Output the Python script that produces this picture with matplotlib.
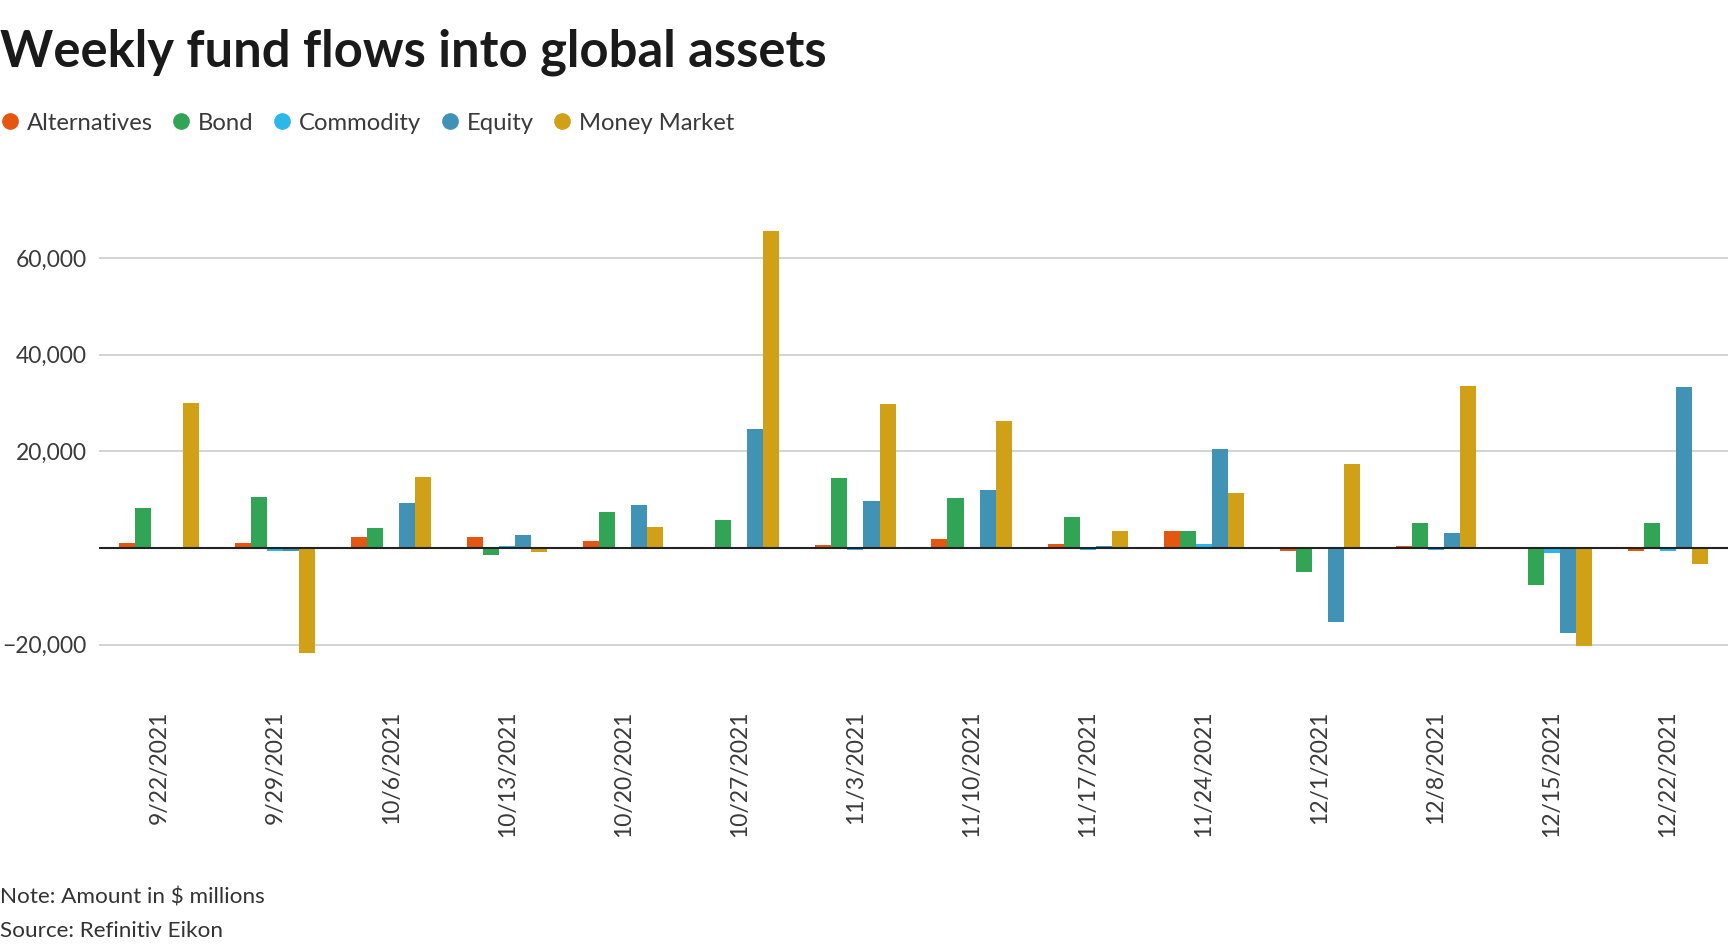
import matplotlib
matplotlib.use("Agg")
import matplotlib.pyplot as plt
from matplotlib.lines import Line2D
from matplotlib.ticker import FuncFormatter
import numpy as np

dates = ["9/22/2021", "9/29/2021", "10/6/2021", "10/13/2021", "10/20/2021",
         "10/27/2021", "11/3/2021", "11/10/2021", "11/17/2021", "11/24/2021",
         "12/1/2021", "12/8/2021", "12/15/2021", "12/22/2021"]

# $ millions
alternatives = [1000, 1000, 2200, 2200, 1400, 0, 550, 1800, 760, 3450, -650, 350, 0, -600]
bond = [8200, 10500, 4100, -1450, 7400, 5700, 14400, 10300, 6350, 3450, -5000, 5100, -7650, 5100]
commodity = [0, -600, 0, 350, 0, 0, -450, 0, -450, 760, 0, -400, -1000, -600]
equity = [0, -600, 9250, 2600, 8800, 24600, 9700, 11950, 350, 20400, -15300, 3050, -17600, 33250]
money_market = [29950, -21700, 14600, -830, 4300, 65500, 29700, 26200, 3450, 11300, 17300, 33450, -20300, -3300]

series = ["Alternatives", "Bond", "Commodity", "Equity", "Money Market"]
colors = ["#e55611", "#31a456", "#2bb7e9", "#4193b5", "#d0a116"]

plt.rcParams['font.family'] = ['Lato', 'DejaVu Sans']

fig = plt.figure(figsize=(17.28, 9.5), dpi=100)
ax = fig.add_axes([99/1728, 1 - 680/950, 1 - 99/1728, 490/950])

x = np.arange(len(dates))
w = 0.138
for i, (name, vals) in enumerate(zip(series, [alternatives, bond, commodity, equity, money_market])):
    ax.bar(x + (i - 2) * w, vals, width=w, color=colors[i], linewidth=0, zorder=3, label=name)

ax.set_xlim(-0.52, 13.52)
ax.set_ylim(-27310, 74069)
ax.set_yticks([-20000, 20000, 40000, 60000])
ax.yaxis.set_major_formatter(FuncFormatter(lambda v, p: f"{v:,.0f}".replace("-", "\u2212")))
ax.grid(axis='y', color='#c8c8c8', linewidth=1.1, zorder=0)
ax.axhline(0, color='#222222', linewidth=1.5, zorder=4)
for s in ax.spines.values():
    s.set_visible(False)

ax.set_xticks(x)
ax.set_xticklabels(dates, rotation=90, va='top', ha='center')
ax.tick_params(axis='x', length=0, pad=22, labelsize=16.5, labelcolor='#3a3a3a')
ax.tick_params(axis='y', length=0, pad=9, labelsize=16.5, labelcolor='#3a3a3a')

fig.text(0.0, 1 - 66/950, "Weekly fund flows into global assets", fontsize=36.5,
         fontweight='bold', color='#1a1a1a', ha='left', va='baseline')

handles = [Line2D([], [], marker='o', linestyle='', markersize=11, color=c) for c in colors]
leg = fig.legend(handles, series, loc='center left', bbox_to_anchor=(0.001, 1 - 123/950),
                 ncol=5, frameon=False, fontsize=17.2, handlelength=0.7, handletextpad=0.35,
                 columnspacing=0.85, borderpad=0, borderaxespad=0)
for t in leg.get_texts():
    t.set_color('#3a3a3a')

fig.text(0.0, 1 - 897/950, "Note: Amount in $ millions", fontsize=16.2, color='#333333',
         ha='left', va='center')
fig.text(0.0, 1 - 931/950, "Source: Refinitiv Eikon", fontsize=16.2, color='#333333',
         ha='left', va='center')

fig.savefig("out.png", dpi=100)
